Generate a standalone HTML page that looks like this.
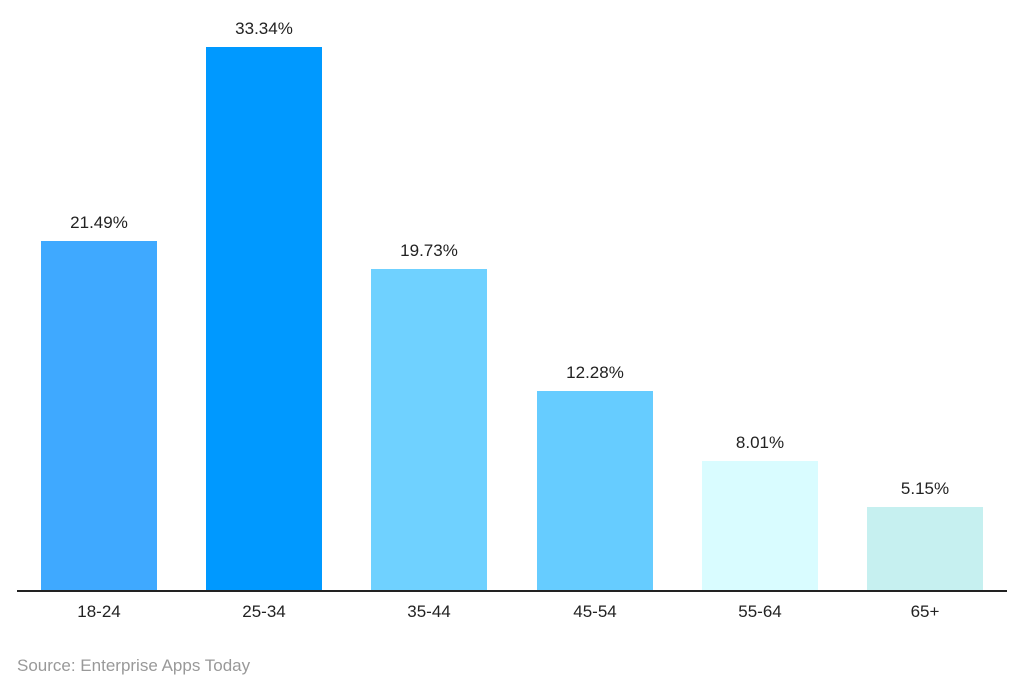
<!DOCTYPE html>
<html><head><style>
body{margin:0;width:1024px;height:694px;background:#fff;font-family:"Liberation Sans",sans-serif;position:relative;overflow:hidden}
.b{position:absolute;width:116px;bottom:103px}
.v{position:absolute;width:116px;text-align:center;font-size:17px;color:#222}
.l{position:absolute;width:116px;text-align:center;font-size:17px;color:#222;top:602px}
</style></head><body>
<div class="b" style="left:41px;top:241px;background:#3fa9ff"></div>
<div class="b" style="left:206px;top:47px;background:#0099ff"></div>
<div class="b" style="left:371px;top:269px;background:#6fd1ff"></div>
<div class="b" style="left:537px;top:391px;background:#66ccff"></div>
<div class="b" style="left:702px;top:461px;background:#d9fcff"></div>
<div class="b" style="left:867px;top:507px;background:#c6f0f0"></div>
<div class="v" style="left:41px;top:213px">21.49%</div>
<div class="v" style="left:206px;top:19px">33.34%</div>
<div class="v" style="left:371px;top:241px">19.73%</div>
<div class="v" style="left:537px;top:363px">12.28%</div>
<div class="v" style="left:702px;top:433px">8.01%</div>
<div class="v" style="left:867px;top:479px">5.15%</div>
<div style="position:absolute;left:17px;width:990px;top:590px;height:2px;background:#222"></div>
<div class="l" style="left:41px">18-24</div>
<div class="l" style="left:206px">25-34</div>
<div class="l" style="left:371px">35-44</div>
<div class="l" style="left:537px">45-54</div>
<div class="l" style="left:702px">55-64</div>
<div class="l" style="left:867px">65+</div>
<div style="position:absolute;left:17px;top:656px;font-size:17px;color:#999">Source: Enterprise Apps Today</div>
</body></html>
